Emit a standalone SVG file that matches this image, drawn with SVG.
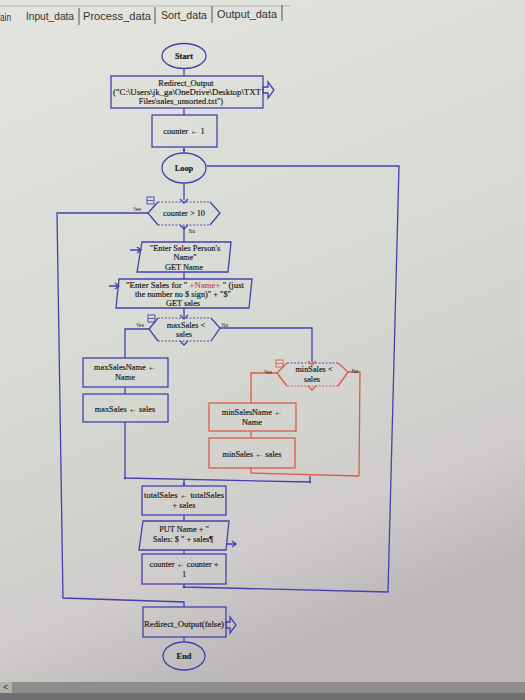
<svg xmlns="http://www.w3.org/2000/svg" width="525" height="700" viewBox="0 0 525 700">
<defs>
<linearGradient id="bg" x1="0" y1="0" x2="0.3" y2="1">
<stop offset="0" stop-color="#e3e4de"/>
<stop offset="0.5" stop-color="#d7dbd3"/>
<stop offset="0.85" stop-color="#cfcccb"/>
<stop offset="1" stop-color="#bcb8ba"/>
</linearGradient>
<style>
.b{fill:none;stroke:#4640b0;stroke-width:1.3}
.r{fill:none;stroke:#de5a45;stroke-width:1.3}
.bd{fill:none;stroke:#4640b0;stroke-width:0.9;stroke-dasharray:2 1.5}
.rd{fill:none;stroke:#de5a45;stroke-width:0.9;stroke-dasharray:2 1.5}
.t{font-family:"Liberation Serif",serif;font-size:8.3px;fill:#141414;text-anchor:middle;stroke:#141414;stroke-width:0.15}
.s{font-family:"Liberation Sans",sans-serif;font-size:5px;fill:#222;text-anchor:middle}
.tab{font-family:"Liberation Sans",Arial,sans-serif;font-size:11px;fill:#333}
.sep{stroke:#555;stroke-width:1}
</style>
</defs>
<rect width="525" height="700" fill="url(#bg)"/>

<g id="tabs">
<line x1="0" y1="6" x2="290" y2="6" stroke="#aaa" stroke-width="0.8"/>
<text class="tab" x="0" y="21" textLength="11" lengthAdjust="spacingAndGlyphs">ain</text>
<text class="tab" x="26" y="20" textLength="48" lengthAdjust="spacingAndGlyphs">Input_data</text>
<line class="sep" x1="79" y1="8" x2="79" y2="25"/>
<text class="tab" x="83" y="20" textLength="68" lengthAdjust="spacingAndGlyphs">Process_data</text>
<line class="sep" x1="155" y1="7" x2="155" y2="24"/>
<text class="tab" x="161" y="19" textLength="46" lengthAdjust="spacingAndGlyphs">Sort_data</text>
<line class="sep" x1="212" y1="6" x2="212" y2="23"/>
<text class="tab" x="217" y="18" textLength="60" lengthAdjust="spacingAndGlyphs">Output_data</text>
<line class="sep" x1="282" y1="5" x2="282" y2="21"/>
</g>

<g id="connectors">
<line class="b" x1="184" y1="68" x2="184" y2="76"/>
<line class="b" x1="184" y1="108" x2="184" y2="115"/>
<line class="b" x1="184" y1="147" x2="184" y2="153"/>
<line class="b" x1="184" y1="183" x2="184" y2="200"/>
<polyline class="b" points="207,166 399,166 388,592 184,587 184,584"/>
<polyline class="b" points="148,213 57,213 63,598 184,602 184,607"/>
<line class="b" x1="184" y1="226" x2="184" y2="242"/>
<line class="b" x1="184" y1="272" x2="184" y2="279"/>
<line class="b" x1="184" y1="308" x2="184" y2="317"/>
<polyline class="b" points="149,329 125,329 125,358"/>
<polyline class="b" points="220,328 312,328 312,362"/>
<line class="b" x1="125" y1="387" x2="125" y2="394"/>
<polyline class="b" points="125,422 125,478 310,482 310,476"/>
<line class="b" x1="184" y1="480" x2="184" y2="486"/>
<polyline class="r" points="277,373 251,373 251,403"/>
<line class="r" x1="251" y1="431" x2="251" y2="438"/>
<polyline class="r" points="251,468 251,473 359,476"/>
<polyline class="r" points="348,372 360,372 359,476"/>
<line class="b" x1="184" y1="515" x2="184" y2="521"/>
<line class="b" x1="184" y1="550" x2="184" y2="554"/>
<line class="b" x1="184" y1="637" x2="184" y2="642"/>
<circle cx="184" cy="150" r="1.3" fill="#4640b0"/>
<circle cx="184" cy="587" r="1.3" fill="#4640b0"/>
<circle cx="125" cy="478" r="1.2" fill="#4640b0"/>
<circle cx="310" cy="482" r="1.2" fill="#4640b0"/>
<circle cx="184" cy="484" r="1.2" fill="#4640b0"/>
</g>

<g id="start">
<ellipse class="b" cx="184" cy="56" rx="22" ry="12.5"/>
<text class="t" x="184" y="59" font-weight="bold">Start</text>
</g>

<g id="redirect1">
<rect class="b" x="111" y="76" width="152" height="32"/>
<polygon class="b" points="263,87 268,87 268,82 274,90 268,98 268,93 263,93"/>
<text class="t" x="186" y="86">Redirect_Output</text>
<text class="t" x="187" y="95" textLength="148" lengthAdjust="spacingAndGlyphs">("C:\Users\jk_ga\OneDrive\Desktop\TXT</text>
<text class="t" x="181" y="104">Files\sales_unsorted.txt")</text>
</g>

<g id="counter1">
<rect class="b" x="152" y="115" width="65" height="32"/>
<text class="t" x="184" y="134">counter ← 1</text>
</g>

<g id="loop">
<ellipse class="b" cx="184" cy="168" rx="22" ry="15"/>
<text class="t" x="184" y="171" font-weight="bold">Loop</text>
</g>

<g id="dec-counter">
<path class="b" d="M158,202 L148,213 L158,225 M210,202 L220,213 L210,225"/>
<path class="bd" d="M158,202 H210 M158,225 H210"/>
<path class="b" d="M180,199 L184,203 L188,199 M180,225 L184,229 L188,225"/>
<rect x="147" y="197" width="7" height="7" fill="none" stroke="#4640b0" stroke-width="0.9"/>
<line x1="147" y1="200.5" x2="154" y2="200.5" stroke="#4640b0" stroke-width="0.8"/>
<text class="t" x="184" y="216">counter &gt; 10</text>
<text class="s" x="137" y="211">Yes</text>
<text class="s" x="192" y="233">No</text>
</g>

<g id="input-name">
<polygon class="b" points="142,242 231,242 228,272 137,272"/>
<path class="b" d="M130,250 H141 M137,247 L141,250 L137,253"/>
<text class="t" x="185" y="251">"Enter Sales Person's</text>
<text class="t" x="185" y="260">Name"</text>
<text class="t" x="184" y="270">GET Name</text>
</g>

<g id="input-sales">
<polygon class="b" points="119,279 252,279 249,308 116,308"/>
<path class="b" d="M109,286 H119 M115,283 L119,286 L115,289"/>
<text class="t" x="185" y="288" textLength="118" lengthAdjust="spacingAndGlyphs">"Enter Sales for " <tspan fill="#c9503f" stroke="#c9503f">+Name+</tspan> " (just</text>
<text class="t" x="183" y="297">the number no $ sign)" + "$"</text>
<text class="t" x="183" y="306">GET sales</text>
</g>

<g id="dec-max">
<path class="b" d="M158,318 L149,329 L158,341 M211,318 L220,328 L211,341"/>
<path class="bd" d="M158,318 H211 M158,341 H211"/>
<path class="b" d="M180,315 L184,319 L188,315 M180,341 L184,345 L188,341"/>
<rect x="148" y="315" width="7" height="7" fill="none" stroke="#4640b0" stroke-width="0.9"/>
<line x1="148" y1="318.5" x2="155" y2="318.5" stroke="#4640b0" stroke-width="0.8"/>
<text class="t" x="186" y="328">maxSales &lt;</text>
<text class="t" x="184" y="337">sales</text>
<text class="s" x="140" y="327">Yes</text>
<text class="s" x="225" y="327">No</text>
</g>

<g id="maxname">
<rect class="b" x="83" y="358" width="85" height="29"/>
<text class="t" x="125" y="370">maxSalesName ←</text>
<text class="t" x="125" y="380">Name</text>
</g>

<g id="maxsales">
<rect class="b" x="83" y="394" width="85" height="28"/>
<text class="t" x="125" y="412">maxSales ← sales</text>
</g>

<g id="dec-min">
<path class="r" d="M287,363 L277,373 L287,386 M338,363 L348,372 L338,386"/>
<path class="bd" d="M287,363 H338"/>
<path class="rd" d="M287,386 H338"/>
<path class="r" d="M308,361 L312,365 L316,361 M308,386 L312,390 L316,386"/>
<rect x="276" y="360" width="7" height="7" fill="none" stroke="#de5a45" stroke-width="0.9"/>
<line x1="276" y1="363.5" x2="283" y2="363.5" stroke="#de5a45" stroke-width="0.8"/>
<text class="t" x="314" y="372">minSales &lt;</text>
<text class="t" x="312" y="382">sales</text>
<text class="s" x="268" y="374">Yes</text>
<text class="s" x="355" y="373">No</text>
</g>

<g id="minname">
<rect class="r" x="209" y="403" width="87" height="28"/>
<text class="t" x="252" y="415">minSalesName ←</text>
<text class="t" x="252" y="425">Name</text>
</g>

<g id="minsales">
<rect class="r" x="209" y="438" width="86" height="30"/>
<text class="t" x="252" y="457">minSales ← sales</text>
</g>

<g id="total">
<rect class="b" x="142" y="486" width="84" height="29"/>
<text class="t" x="184" y="498" textLength="80" lengthAdjust="spacingAndGlyphs">totalSales ← totalSales</text>
<text class="t" x="184" y="508">+ sales</text>
</g>

<g id="put">
<polygon class="b" points="143,521 229,521 226,550 139,550"/>
<path class="b" d="M227,544 H236 M232,541 L236,544 L232,547"/>
<text class="t" x="184" y="532">PUT Name  +  "</text>
<text class="t" x="183" y="542">Sales: $ " + sales¶</text>
</g>

<g id="counter2">
<rect class="b" x="142" y="554" width="84" height="30"/>
<text class="t" x="184" y="567">counter ← counter +</text>
<text class="t" x="184" y="577">1</text>
</g>

<g id="redirect2">
<rect class="b" x="143" y="607" width="83" height="30"/>
<polygon class="b" points="226,622 230,622 230,617 236,625 230,633 230,628 226,628"/>
<text class="t" x="184" y="627" textLength="80" lengthAdjust="spacingAndGlyphs">Redirect_Output(false)</text>
</g>

<g id="end">
<ellipse class="b" cx="184" cy="656" rx="21" ry="14"/>
<text class="t" x="184" y="659" font-weight="bold">End</text>
</g>

<g id="scrollbar">
<rect x="0" y="682" width="525" height="11" fill="#8e8f8b"/>
<rect x="0" y="682" width="12" height="11" fill="#b0b0ac"/>
<text x="3" y="690" font-family="Liberation Sans, sans-serif" font-size="9" fill="#333">&lt;</text>
<rect x="0" y="693" width="525" height="7" fill="#6f6e70"/>
</g>
</svg>
